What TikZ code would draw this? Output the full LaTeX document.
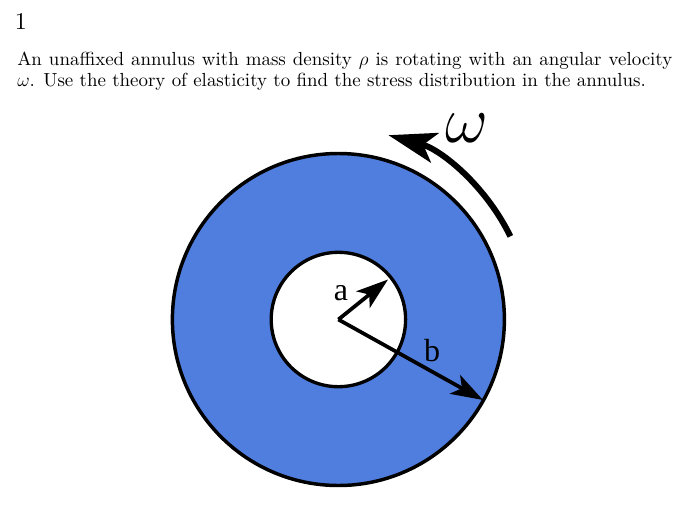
\documentclass[tikz,border=0pt]{standalone}
\usepackage{fontspec}
\setmainfont{lmroman10}[Extension=.otf, UprightFont=*-regular, ItalicFont=*-italic, BoldFont=*-bold]
\newfontfamily\lblfont{Liberation Serif}
\usetikzlibrary{arrows.meta,calc}
\definecolor{ringblue}{RGB}{79,126,222}
\begin{document}
\begin{tikzpicture}[x=0.75pt,y=-0.75pt,
  txt/.style={anchor=base west, inner sep=0pt},
  radarrow/.style={line width=2.8pt, -{Stealth[length=24pt,width=16pt,inset=6pt]}},
  omegaarrow/.style={line width=4.5pt, -{Stealth[length=36pt,width=23pt,inset=9pt]}},
  lbl/.style={inner sep=0pt, font=\lblfont\fontsize{24}{24}\selectfont}]
\useasboundingbox (0,0) rectangle (694,515);
% text
\node[txt] (num) at (14.5,29.3) {\fontsize{18}{20}\selectfont 1};
\node[txt] (line1) at (17,65) {\fontsize{14.2}{16}\selectfont\makebox[491.25pt][s]{An unaffixed annulus with mass density $\rho$ is rotating with an angular velocity}};
\node[txt] (line2) at (17,86) {\fontsize{14.2}{16}\selectfont $\omega$. Use the theory of elasticity to find the stress distribution in the annulus.};
% annulus
\coordinate (c) at (338.4,319.5);
\draw[line width=2.6pt, fill=ringblue] (c) circle[radius=166];
\draw[line width=2.5pt, fill=white] (c) circle[radius=67.2];
% radii
\coordinate (ta) at (388,279.5);
\coordinate (tb) at (483,400);
\draw[radarrow] (c) -- (ta);
\draw[radarrow] (c) -- (tb);
\node[lbl] (la) at (341,293) {a};
\node[lbl] (lb) at (432,351) {b};
% omega
\coordinate (ws) at ($(c)+(-25.8:191)$);
\draw[omegaarrow] (ws) arc[start angle=-25.8, end angle=-74.8, radius=191];
\node[scale=2, inner sep=0pt] (w) at (467,128) {\fontsize{24}{24}\selectfont$\omega$};
\end{tikzpicture}
\end{document}
